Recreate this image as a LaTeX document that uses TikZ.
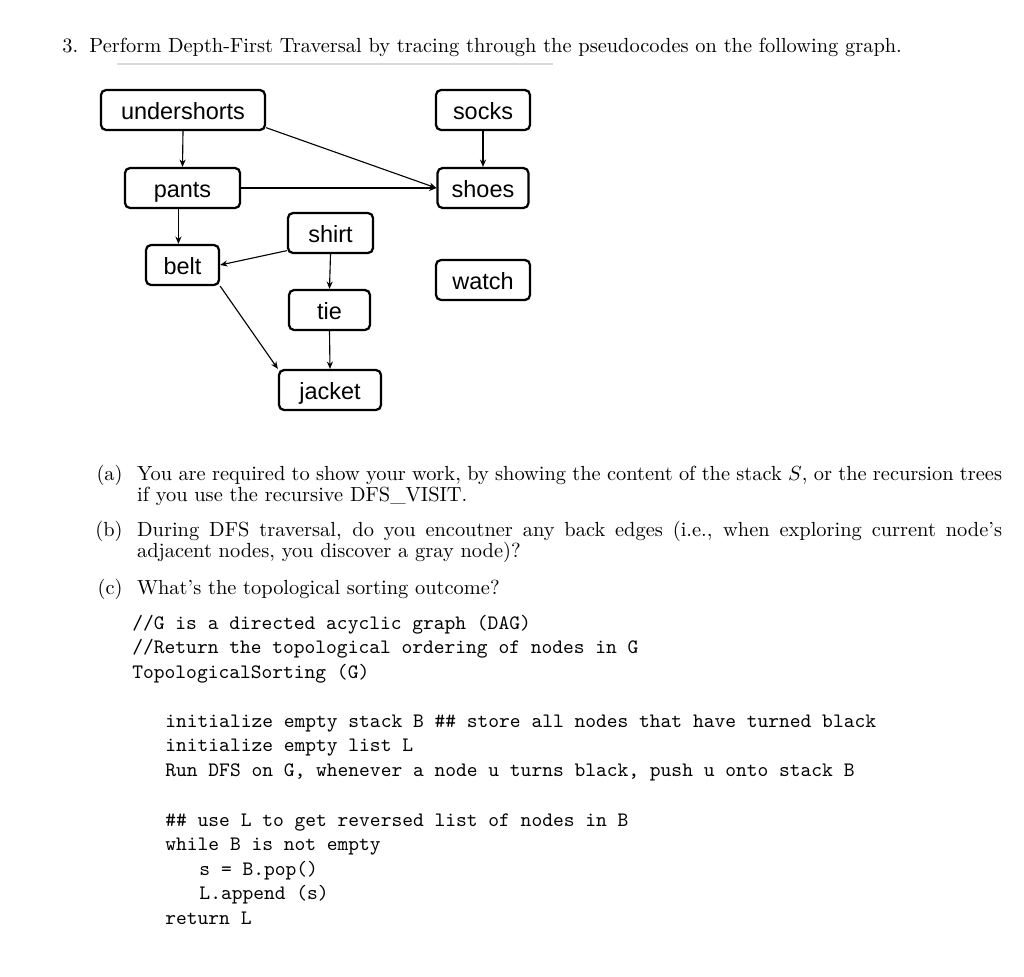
\documentclass[tikz,border=0pt]{standalone}
\usepackage{fontspec}
\newfontfamily\boxfont{Liberation Sans}
\usetikzlibrary{arrows.meta}

\begin{document}
\begin{tikzpicture}[
            x = 0.49pt, y = -0.49pt, % one unit is one pixel of the page
            > = {Stealth[length=3.6pt,width=3pt]}, % arrow head style
            item/.style = {draw, line width=1.1pt, rounded corners=2.5pt,
                minimum height=19.6pt, inner sep=0pt,
                text height=11.6pt, text depth=2.5pt,
                font=\boxfont\fontsize{11.5}{13}\selectfont},
            link/.style = {->, line width=0.55pt},
            txt/.style = {anchor=base west, inner sep=0pt,
                font=\fontsize{10}{10.5}\selectfont},
            lbl/.style = {txt, anchor=base east},
            para/.style = {txt, text width=423.85pt, align=justify},
            code/.style = {anchor=base west, inner sep=0pt,
                text width=440pt, align=justify, % keeps the full mono spaces
                font=\ttfamily\fontsize{10.05}{12.05}\selectfont}
        ]
    \useasboundingbox (0,0) rectangle (1024,976);

    % question
    \node[txt] (num) at (62,52) {3.};
    \node[txt] (title) at (89,52) {Perform Depth-First Traversal by tracing through the pseudocodes on the following graph.};
    \draw[gray!30, line width=0.5pt] (117,64) -- (553,64);

    % graph
    \node[item, minimum width=80.4pt] (us) at (183,110) {undershorts};
    \node[item, minimum width=46.1pt] (so) at (483,110) {socks};
    \node[item, minimum width=56.4pt] (pa) at (182.5,188) {pants};
    \node[item, minimum width=44.6pt] (sh) at (483,188) {shoes};
    \node[item, minimum width=41.7pt] (st) at (330.5,233) {shirt};
    \node[item, minimum width=35.8pt] (be) at (182.5,265) {belt};
    \node[item, minimum width=46.1pt] (wa) at (483,280) {watch};
    \node[item, minimum width=39.7pt] (ti) at (329.5,310) {tie};
    \node[item, minimum width=50pt] (ja) at (330,390) {jacket};

    \draw[link] (us.south) -- (pa.north);
    \draw[link] (us.-12) -- (sh.west);
    \draw[link] (pa.east) -- (sh.west);
    \draw[link] (so.south) -- (sh.north);
    \draw[link] ([xshift=-2pt]pa.south) -- ([xshift=-2pt]be.north);
    \draw[link] (st.202) -- (be.east);
    \draw[link] (st.south) -- (ti.north);
    \draw[link] (ti.south) -- (ja.north);
    \draw[link] (be.south east) -- (ja.north west);

    % parts
    \node[lbl] (la) at (123,480) {(a)};
    \node[para] (pa1) at (136.7,480) {You are required to show your work, by showing the content of the stack $S$, or the recursion trees\linebreak if you use the recursive DFS\_VISIT.};
    \node[lbl] (lb) at (123,536) {(b)};
    \node[para] (pb1) at (136.7,536) {During DFS traversal, do you encoutner any back edges (i.e., when exploring current node's\linebreak adjacent nodes, you discover a gray node)?};
    \node[lbl] (lc) at (123,594) {(c)};
    \node[para] (pc1) at (136.7,594) {What's the topological sorting outcome?};

    % pseudocode
    \node[code] (head) at (132,629) {//G is a directed acyclic graph (DAG)\\
        //Return the topological ordering of nodes in G\\
        TopologicalSorting (G)};
    \node[code] (init) at (165,727) {initialize empty stack B \#\# store all nodes that have turned black\\
        initialize empty list L\\
        Run DFS on G, whenever a node u turns black, push u onto stack B};
    \node[code] (loop) at (165,826) {\#\# use L to get reversed list of nodes in B\\
        while B is not empty\\
        \hspace*{16.7pt}s = B.pop()\\
        \hspace*{16.7pt}L.append (s)\\
        return L};

\end{tikzpicture}
\end{document}
